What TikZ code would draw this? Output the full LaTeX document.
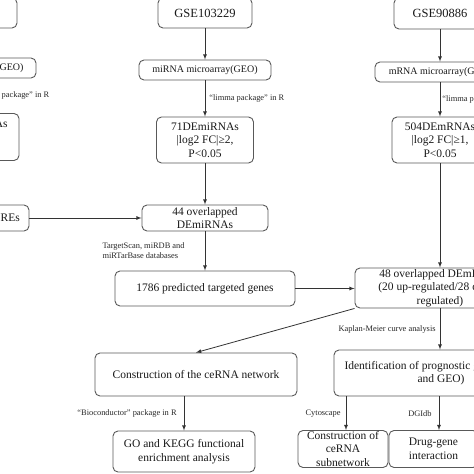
\documentclass[tikz,border=0pt]{standalone}
\usepackage{fontspec}
\setmainfont{Liberation Serif}
\usepackage{tikz}
\tikzset{
    boxed/.style={draw=black!65, rectangle, rounded corners=5pt, line width=0.9pt, align=center, inner sep=0pt, anchor=center, text=black!90, font=\fontsize{11.5}{13.5}\selectfont},
    gsebox/.style={boxed, font=\fontsize{12.5}{14}\selectfont},
    arraybox/.style={boxed, font=\fontsize{10}{12}\selectfont},
    flow/.style={-latex, draw=black!80, line width=0.8pt},
    method/.style={font=\fontsize{8.4}{10}\selectfont, text=black!85, inner sep=0pt, align=left} }
\usetikzlibrary{calc}

\begin{document}
\begin{tikzpicture}[x=1pt, y=-1pt]
			\useasboundingbox (0,0) rectangle (474,474);
			\clip (0,0) rectangle (474,474);
			% ---- lncRNA column, cut by the left edge
			\node[gsebox, minimum width=94pt, minimum height=30pt] (gseL) at (-30,13) {GSE113852};
			\node[arraybox, minimum width=132pt, minimum height=20pt] (arrayL) at (-30,68) {lncRNA microarray(GEO)};
			\node[boxed, minimum width=98pt, minimum height=47pt] (deL) at (-30,137) {235DElncRNAs\\|log2 FC|≥1,\\P<0.05};
			\node[boxed, minimum width=132pt, minimum height=26pt] (mreL) at (-37,218) {DElncRNAs with MREs};
			% ---- miRNA column
			\node[gsebox, minimum width=94pt, minimum height=30pt] (gseM) at (205,13) {GSE103229};
			\node[arraybox, minimum width=132pt, minimum height=20pt] (arrayM) at (205,70) {miRNA microarray(GEO)};
			\node[boxed, minimum width=97pt, minimum height=46pt] (deM) at (205,140) {71DEmiRNAs\\|log2 FC|≥2,\\P<0.05};
			\node[boxed, minimum width=126pt, minimum height=26pt] (ovM) at (205,218) {44 overlapped\\DEmiRNAs};
			\node[boxed, minimum width=180pt, minimum height=35pt] (genes) at (205,288.5) {1786 predicted targeted genes};
			\node[boxed, minimum width=202pt, minimum height=43pt] (cerna) at (196,374.5) {Construction of the ceRNA network};
			\node[boxed, minimum width=142pt, minimum height=41pt] (go) at (184,451.5) {GO and KEGG functional\\enrichment analysis};
			% ---- mRNA column, cut by the right edge
			\node[gsebox, minimum width=92pt, minimum height=31pt] (gseR) at (440,13.5) {GSE90886};
			\node[arraybox, minimum width=130pt, minimum height=20pt] (arrayR) at (440,72) {mRNA microarray(GEO)};
			\node[boxed, minimum width=96pt, minimum height=46pt] (deR) at (440,140) {504DEmRNAs\\|log2 FC|≥1,\\P<0.05};
			\node[boxed, minimum width=170pt, minimum height=40pt] (ovR) at (440,288) {48 overlapped DEmRNAs\\(20 up-regulated/28 down-\\regulated)};
			\node[boxed, minimum width=214pt, minimum height=46pt] (prog) at (441,373) {Identification of prognostic genes (TCGA\\and GEO)};
			\node[boxed, minimum width=90pt, minimum height=37pt] (sub) at (343,449) {Construction of\\ceRNA\\subnetwork};
			\node[boxed, minimum width=89pt, minimum height=37pt] (drug) at (433.5,449) {Drug-gene\\interaction};
			% ---- connectors
			\draw[flow] (gseL) -- (arrayL);
			\draw[flow] (arrayL) -- node[method, right=4pt] {“limma package” in R} (deL);
			\draw[flow] (deL.south -| mreL.north) -- (mreL.north);
			\draw[flow] (mreL) -- (ovM);
			\draw[flow] (gseM) -- (arrayM);
			\draw[flow] (arrayM) -- node[method, right=4pt] {“limma package” in R} (deM);
			\draw[flow] (deM) -- (ovM);
			\draw[flow] (ovM) -- node[method, left=20pt] {TargetScan, miRDB and\\miRTarBase databases} (genes);
			\draw[flow] (gseR) -- (arrayR);
			\draw[flow] (arrayR) -- node[method, right=2pt] {“limma package” in R} (deR);
			\draw[flow] (deR) -- (ovR);
			\draw[flow] (genes.east) -- (genes.east -| ovR.west);
			\draw[flow] (ovR.south west) -- (cerna.north);
			\draw[flow] (ovR.south) -- node[method, left=4pt] {Kaplan-Meier curve analysis} (ovR.south |- prog.north);
			\draw[flow] (cerna.south -| go.north) -- node[method, left=7pt] {“Bioconductor” package in R} (go.north);
			\draw[flow] ([xshift=3pt]prog.south -| sub.north) -- node[method, left=5pt] {Cytoscape} ([xshift=3pt]sub.north);
			\draw[flow] ([xshift=5.5pt]prog.south -| drug.north) -- node[method, left=7pt] {DGIdb} ([xshift=5.5pt]drug.north);
		\end{tikzpicture}
\end{document}
